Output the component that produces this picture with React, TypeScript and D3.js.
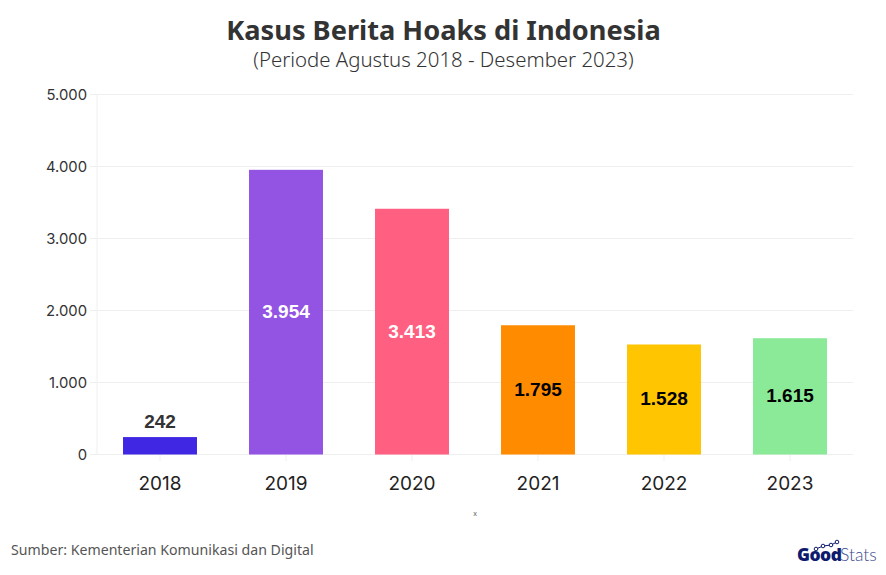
import React, { useEffect, useRef } from 'react';
import * as d3 from 'd3';

const years = ['2018', '2019', '2020', '2021', '2022', '2023'];
const cases = [242, 3954, 3413, 1795, 1528, 1615];
const barColors = ['#3f27e3', '#9454e3', '#ff5f80', '#ff8b00', '#ffc500', '#8aea98'];
const labelColors = ['#333333', '#ffffff', '#ffffff', '#000000', '#000000', '#000000'];
const yTicks = [0, 1000, 2000, 3000, 4000, 5000];
const tickLabels = ['0', '1.000', '2.000', '3.000', '4.000', '5.000'];

const W = 886;
const H = 575;
const fmt = (v: number) => d3.format(',')(v).replace(/,/g, '.');

const App: React.FC = () => {
  const ref = useRef<SVGSVGElement | null>(null);

  useEffect(() => {
    const svg = d3.select(ref.current);
    svg.selectAll('*').remove();

    const x = d3.scaleBand<string>().domain(years).range([97, 853]).paddingInner(0.413).paddingOuter(0.2065);
    const y = d3.scaleLinear().domain([0, 5000]).range([454, 94]);
    const sans = '"Noto Sans", sans-serif';
    const tickFont = 'Inter, sans-serif';

    // Gridlines and y labels
    const grid = svg.append('g').attr('transform', 'translate(97,0)')
      .call(d3.axisLeft(y).tickValues(yTicks).tickSize(-756).tickPadding(10)
        .tickFormat((_, i) => tickLabels[i]));
    grid.select('.domain').attr('d', `M0,${y(5000)}V${y(0)}`).attr('stroke', '#efefef');
    grid.selectAll('.tick line').attr('stroke', '#efefef').attr('x1', -7);
    grid.selectAll('.tick text')
      .attr('y', 0.5)
      .attr('fill', '#333').attr('font-family', tickFont).attr('font-size', 14.8);

    // X axis
    const xAxis = svg.append('g').attr('transform', `translate(0,${y(0)})`)
      .call(d3.axisBottom(x).tickSize(7).tickPadding(15.5));
    xAxis.select('.domain').remove();
    xAxis.selectAll('.tick line').attr('stroke', '#efefef');
    xAxis.selectAll('.tick text')
      .attr('fill', '#222').attr('font-family', tickFont).attr('font-size', 19);

    // Bars
    svg.append('g').attr('transform', 'translate(0,0.5)').selectAll('rect')
      .data(years)
      .enter()
      .append('rect')
      .attr('x', d => x(d)!)
      .attr('y', (_, i) => y(cases[i]))
      .attr('width', x.bandwidth())
      .attr('height', (_, i) => y(0) - y(cases[i]))
      .attr('fill', (_, i) => barColors[i]);

    // Value labels: centred in the bar, except the small one which sits on top
    svg.append('g').selectAll('text')
      .data(years)
      .enter()
      .append('text')
      .attr('x', d => x(d)! + x.bandwidth() / 2)
      .attr('y', (_, i) => (cases[i] < 500 ? y(cases[i]) - 9 : (y(cases[i]) + y(0)) / 2 + 6.5))
      .attr('text-anchor', 'middle')
      .attr('font-family', '"Liberation Sans", Arial, sans-serif')
      .attr('font-weight', 700)
      .attr('font-size', 19)
      .attr('fill', (_, i) => labelColors[i])
      .text((_, i) => fmt(cases[i]));

    // Title
    svg.append('text').attr('x', 443.5).attr('y', 40).attr('text-anchor', 'middle')
      .attr('font-family', sans).attr('font-weight', 700).attr('font-size', 27.2).attr('fill', '#333')
      .text('Kasus Berita Hoaks di Indonesia');
    svg.append('text').attr('x', 443.5).attr('y', 67).attr('text-anchor', 'middle')
      .attr('font-family', sans).attr('font-weight', 300).attr('font-size', 20.4).attr('fill', '#333')
      .text('(Periode Agustus 2018 - Desember 2023)');

    svg.append('text').attr('x', 475).attr('y', 516).attr('text-anchor', 'middle')
      .attr('font-family', sans).attr('font-size', 7).attr('fill', '#666').text('x');

    // Source
    svg.append('text').attr('x', 11).attr('y', 555)
      .attr('font-family', sans).attr('font-size', 14.15).attr('fill', '#555')
      .text('Sumber: Kementerian Komunikasi dan Digital');

    // Logo
    const logo = svg.append('g');
    logo.append('text').attr('x', 797).attr('y', 560.5)
      .attr('font-family', sans).attr('font-weight', 900).attr('font-size', 17.5).attr('letter-spacing', -0.5)
      .attr('fill', '#0d1a6e').text('Good');
    logo.append('text').attr('x', 840).attr('y', 560.5)
      .attr('font-family', 'Lato, sans-serif').attr('font-weight', 300).attr('font-size', 17.5)
      .attr('fill', '#3a4a8c').text('Stats');
    const pts: [number, number][] = [[816, 549], [823, 546], [831, 545], [837, 542]];
    logo.append('path').attr('d', d3.line()(pts)).attr('fill', 'none').attr('stroke', '#0d1a6e').attr('stroke-width', 1);
    logo.selectAll('circle').data(pts).enter().append('circle')
      .attr('cx', d => d[0]).attr('cy', d => d[1]).attr('r', 1.8)
      .attr('fill', '#fff').attr('stroke', '#0d1a6e').attr('stroke-width', 1);
  }, []);

  return <svg ref={ref} width={W} height={H} style={{ position: 'absolute', left: 0, top: 0, background: '#fff' }} />;
};

export default App;
